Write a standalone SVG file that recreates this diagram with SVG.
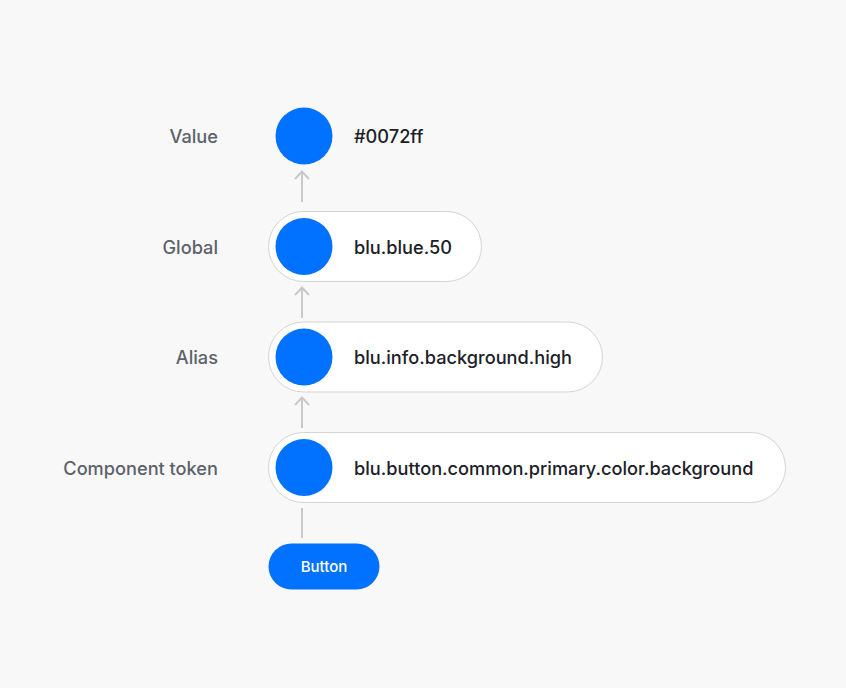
<svg xmlns="http://www.w3.org/2000/svg" width="846" height="688" viewBox="0 0 846 688">
<defs>
<style>
.bg{fill:#f8f8f8}
.pill{fill:#ffffff;stroke:#d4d4d4;stroke-width:1}
.dot{fill:#0072ff}
.lbl{font-family:Inter,"Liberation Sans",sans-serif;font-size:18.2px;font-weight:500;fill:#5b626b;text-anchor:end}
.tok{font-family:Inter,"Liberation Sans",sans-serif;font-size:18.2px;font-weight:500;fill:#1c2027}
.btn{fill:#0072ff}
.btntxt{font-family:Inter,"Liberation Sans",sans-serif;font-size:15px;font-weight:500;fill:#ffffff;text-anchor:middle}
.conn{stroke:#c9c9c9;stroke-width:2;fill:none}
</style>
</defs>
<rect class="bg" x="0" y="0" width="846" height="688"/>
<g id="labels">
<text class="lbl" x="218" y="143">Value</text>
<text class="lbl" x="218" y="254">Global</text>
<text class="lbl" x="218" y="364">Alias</text>
<text class="lbl" x="218" y="475">Component token</text>
</g>
<g id="connectors">
<line class="conn" x1="302" y1="202" x2="302" y2="172"/>
<path class="conn" d="M295,179 L302,171.5 L309,179"/>
<line class="conn" x1="302" y1="318" x2="302" y2="288"/>
<path class="conn" d="M295,295 L302,287.5 L309,295"/>
<line class="conn" x1="302" y1="428" x2="302" y2="398"/>
<path class="conn" d="M295,405 L302,397.5 L309,405"/>
<line class="conn" x1="302" y1="508" x2="302" y2="538"/>
</g>
<g id="value">
<circle class="dot" cx="304" cy="136" r="28.5"/>
<text class="tok" x="354" y="143">#0072ff</text>
</g>
<g id="global">
<rect class="pill" x="268.5" y="211.5" width="213" height="70" rx="35"/>
<circle class="dot" cx="304" cy="246.5" r="28.5"/>
<text class="tok" x="354" y="254">blu.blue.50</text>
</g>
<g id="alias">
<rect class="pill" x="268.5" y="322" width="334" height="70" rx="35"/>
<circle class="dot" cx="304" cy="357" r="28.5"/>
<text class="tok" x="354" y="364">blu.info.background.high</text>
</g>
<g id="component">
<rect class="pill" x="268.5" y="432.5" width="517" height="70" rx="35"/>
<circle class="dot" cx="304" cy="467.5" r="28.5"/>
<text class="tok" x="354" y="475">blu.button.common.primary.color.background</text>
</g>
<g id="button">
<rect class="btn" x="268.5" y="543.5" width="111" height="46" rx="23"/>
<text class="btntxt" x="324" y="572">Button</text>
</g>
</svg>
